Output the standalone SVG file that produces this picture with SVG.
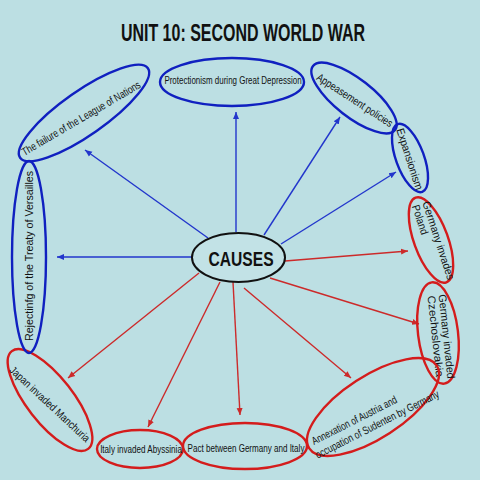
<svg xmlns="http://www.w3.org/2000/svg" width="480" height="480" viewBox="0 0 480 480">
<style>
.bg{fill:#bcdfe3}
.nb{fill:none;stroke:#1020c0;stroke-width:2.4}
.nr{fill:none;stroke:#d41c1c;stroke-width:2.4}
.t{font-family:"Liberation Sans",Arial,sans-serif;font-size:11px;fill:#111}
.h{font-family:"Liberation Sans",Arial,sans-serif;font-weight:bold;fill:#111}
.lb{stroke:#2236cc;stroke-width:1.4;fill:none;marker-end:url(#ab)}
.lr{stroke:#cc2a2a;stroke-width:1.4;fill:none;marker-end:url(#ar)}
</style>
<defs>
<marker id="ab" markerUnits="userSpaceOnUse" markerWidth="8" markerHeight="8" viewBox="0 0 8 8" refX="7" refY="4" orient="auto"><path d="M0,1 L7,4 L0,7 Z" fill="#2236cc"/></marker>
<marker id="ar" markerUnits="userSpaceOnUse" markerWidth="8" markerHeight="8" viewBox="0 0 8 8" refX="7" refY="4" orient="auto"><path d="M0,1 L7,4 L0,7 Z" fill="#cc2a2a"/></marker>
</defs>
<rect class="bg" x="0" y="0" width="480" height="480"/>
<text class="h" font-size="23" text-anchor="middle" transform="translate(243,41) scale(0.69,1)" x="0" y="0" textLength="354" lengthAdjust="spacingAndGlyphs">UNIT 10: SECOND WORLD WAR</text>

<g id="connectors">
<line class="lb" x1="208" y1="238" x2="85" y2="150"/>
<line class="lb" x1="236" y1="232" x2="236" y2="112"/>
<line class="lb" x1="264" y1="235" x2="340" y2="117"/>
<line class="lb" x1="281" y1="244" x2="396" y2="172"/>
<line class="lb" x1="192" y1="257" x2="57" y2="257"/>
<line class="lr" x1="285" y1="261" x2="408" y2="251"/>
<line class="lr" x1="270" y1="278" x2="419" y2="324"/>
<line class="lr" x1="244" y1="288" x2="351" y2="378"/>
<line class="lr" x1="233" y1="282" x2="240" y2="415"/>
<line class="lr" x1="220" y1="282" x2="148" y2="427"/>
<line class="lr" x1="199" y1="273" x2="68" y2="378"/>
</g>

<g id="causes">
<ellipse cx="238.5" cy="257.5" rx="46.5" ry="24.5" fill="#c2e2e6" stroke="#111" stroke-width="2"/>
<text class="h" font-size="21" text-anchor="middle" transform="translate(241,266) scale(0.74,1)" x="0" y="0" textLength="88" lengthAdjust="spacingAndGlyphs">CAUSES</text>
</g>

<g id="protectionism">
<ellipse class="nb" cx="232" cy="82" rx="72" ry="24"/>
<text class="t" text-anchor="middle" transform="translate(233,84) scale(0.73,1)" x="0" y="0" textLength="188" lengthAdjust="spacingAndGlyphs">Protectionism during Great Depression</text>
</g>

<g id="appeasement">
<ellipse class="nb" cx="354" cy="98" rx="52" ry="19" transform="rotate(38 354 98)"/>
<text class="t" text-anchor="middle" transform="translate(355,100) rotate(33) scale(0.73,1)" x="0" y="4" textLength="121" lengthAdjust="spacingAndGlyphs">Appeasement policies</text>
</g>

<g id="expansionism">
<ellipse class="nb" cx="410" cy="158" rx="36" ry="14" transform="rotate(70 410 158)"/>
<text class="t" text-anchor="middle" transform="translate(410,159) rotate(72) scale(0.73,1)" x="0" y="4" textLength="88" lengthAdjust="spacingAndGlyphs">Expansionism</text>
</g>

<g id="poland">
<ellipse class="nr" cx="431" cy="240" rx="45" ry="17" transform="rotate(70 431 240)"/>
<text class="t" transform="translate(434,242) rotate(72) scale(0.73,1)"><tspan x="-56" y="-1" textLength="112" lengthAdjust="spacingAndGlyphs">Germany invades</tspan><tspan x="-56" y="10" textLength="42" lengthAdjust="spacingAndGlyphs">Poland</tspan></text>
</g>

<g id="czechoslovakia">
<ellipse class="nr" cx="438" cy="333" rx="51" ry="20" transform="rotate(83 438 333)"/>
<text class="t" transform="translate(442,337) rotate(84) scale(0.73,1)"><tspan x="-58" y="-1" textLength="116" lengthAdjust="spacingAndGlyphs">Germany invaded</tspan><tspan x="-58" y="10" textLength="112" lengthAdjust="spacingAndGlyphs">Czechoslovakia</tspan></text>
</g>

<g id="annexation">
<ellipse class="nr" cx="373" cy="407" rx="76" ry="31" transform="rotate(-33 373 407)"/>
<text class="t" transform="translate(314,445) rotate(-27) scale(0.73,1)"><tspan x="0" y="0" textLength="129" lengthAdjust="spacingAndGlyphs">Annexation of Austria and</tspan><tspan x="-4" y="14" textLength="188" lengthAdjust="spacingAndGlyphs">occupation of Sudenten by Germany</tspan></text>
</g>

<g id="pact">
<ellipse class="nr" cx="245" cy="446" rx="62" ry="23"/>
<text class="t" text-anchor="middle" transform="translate(246,452) scale(0.73,1)" x="0" y="0" textLength="160" lengthAdjust="spacingAndGlyphs">Pact between Germany and Italy</text>
</g>

<g id="abyssinia">
<ellipse class="nr" cx="140" cy="449" rx="43" ry="19"/>
<text class="t" text-anchor="middle" transform="translate(141,453) scale(0.73,1)" x="0" y="0" textLength="112" lengthAdjust="spacingAndGlyphs">Italy invaded Abyssinia</text>
</g>

<g id="manchuria">
<ellipse class="nr" cx="50" cy="400" rx="62" ry="23" transform="rotate(52 50 400)"/>
<text class="t" text-anchor="middle" transform="translate(50,404) rotate(43) scale(0.73,1)" x="0" y="4" textLength="144" lengthAdjust="spacingAndGlyphs">Japan invaded Manchuria</text>
</g>

<g id="versailles">
<ellipse class="nb" cx="29" cy="257" rx="17" ry="96"/>
<text class="t" text-anchor="middle" transform="translate(29,256) rotate(-90) scale(0.73,1)" x="0" y="4" textLength="233" lengthAdjust="spacingAndGlyphs">Rejectinfg of the Treaty of Versailles</text>
</g>

<g id="league">
<ellipse class="nb" cx="84" cy="113" rx="78" ry="22" transform="rotate(-35 84 113)"/>
<text class="t" text-anchor="middle" transform="translate(81,118) rotate(-30.5) scale(0.73,1)" x="0" y="4" textLength="186" lengthAdjust="spacingAndGlyphs">The failure of the League of Nations</text>
</g>
</svg>
